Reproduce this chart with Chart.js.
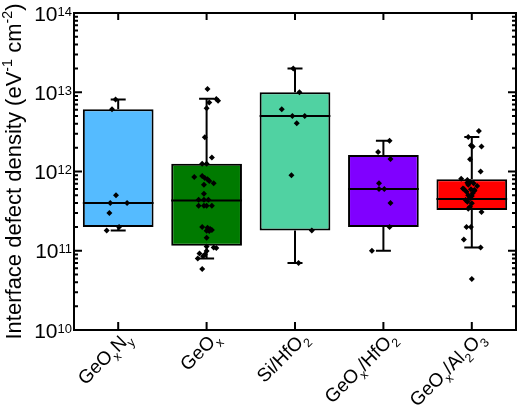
<!DOCTYPE html>
<html>
<head>
<meta charset="utf-8">
<script src="https://cdn.jsdelivr.net/npm/chart.js@4.4.1/dist/chart.umd.min.js"></script>
<style>
  body { margin: 0; background: #fff; }
  #wrap { width: 520px; height: 406px; }
</style>
</head>
<body>
<div id="wrap"><canvas id="myChart" width="520" height="406"></canvas></div>
<script>
// categories (rich parts: [text, 'sub' or ''])
const categories = ['GeOxNy', 'GeOx', 'Si/HfO2', 'GeOx/HfO2', 'GeOx/Al2O3'];
const labelParts = [
  [['GeO', ''], ['x', 'sub'], ['N', ''], ['y', 'sub']],
  [['GeO', ''], ['x', 'sub']],
  [['Si/HfO', ''], ['2', 'sub']],
  [['GeO', ''], ['x', 'sub'], ['/HfO', ''], ['2', 'sub']],
  [['GeO', ''], ['x', 'sub'], ['/Al', ''], ['2', 'sub'], ['O', ''], ['3', 'sub']]
];

// box statistics
const q1 = [2.0e11, 1.16e11, 1.8e11, 2.0e11, 3.27e11];
const q3 = [6.1e12, 1.25e12, 1.0e13, 1.61e12, 8.0e11];
const medians = [4.0e11, 4.3e11, 5.0e12, 6.0e11, 4.5e11];
const whiskerLow = [1.8e11, 8.0e10, 7.0e10, 1.0e11, 1.1e11];
const whiskerHigh = [8.1e12, 8.3e12, 2.0e13, 2.45e12, 2.72e12];

// raw points per category, with jitter (category units)
const ptsGeOxNy = [8.1e12, 6.1e12, 5.0e11, 4.0e11, 4.0e11, 3.0e11, 2.0e11, 1.8e11];
const jitGeOxNy = [-0.03, -0.07, -0.025, -0.09, 0.10, -0.10, 0.01, -0.13];

const ptsGeOx = [1.1e13, 8.2e12, 7.8e12, 7.4e12, 6.3e12, 2.7e12, 1.5e12, 1.25e12, 1.25e12,
  8.8e11, 8.5e11, 8.3e11, 8.0e11, 7.6e11, 7.1e11, 6.8e11, 5.25e11, 4.4e11, 4.4e11, 4.4e11,
  3.7e11, 3.7e11, 3.7e11, 3.7e11, 2.0e11, 1.95e11, 1.88e11, 1.83e11, 1.78e11, 1.79e11,
  1.46e11, 1.13e11, 1.10e11, 1.08e11, 9.9e10, 9.2e10, 9.0e10, 8.0e10, 8.5e10, 5.9e10];
const jitGeOx = [0.01, 0.11, 0.13, 0.03, 0.00, -0.02, 0.06, -0.05, 0.00,
  -0.05, -0.14, -0.02, 0.01, 0.03, 0.08, -0.03, -0.03, -0.09, -0.03, 0.02,
  -0.09, -0.03, 0.00, 0.06, -0.05, 0.01, 0.04, 0.06, 0.03, 0.00,
  0.00, 0.00, 0.08, 0.11, 0.00, -0.08, -0.02, -0.10, -0.04, -0.05];

const ptsSiHfO2 = [2.0e13, 1.0e13, 6.1e12, 5.0e12, 5.0e12, 4.06e12, 9.0e11, 1.8e11, 7.0e10];
const jitSiHfO2 = [-0.02, 0.05, -0.15, -0.03, 0.11, 0.02, -0.04, 0.19, 0.04];

const ptsGeOxHfO2 = [2.45e12, 1.76e12, 1.44e12, 7.1e11, 6.0e11, 6.0e11, 4.0e11, 2.0e11, 1.0e11];
const jitGeOxHfO2 = [0.07, -0.06, 0.08, -0.05, -0.05, 0.01, 0.08, 0.07, -0.13];

const ptsGeOxAl2O3 = [3.24e12, 2.72e12, 2.13e12, 2.07e12, 2.07e12, 1.43e12, 1.0e12, 8.1e11,
  7.8e11, 7.4e11, 7.2e11, 7.1e11, 6.8e11, 6.56e11, 6.1e11, 6.0e11, 5.96e11, 5.84e11, 5.7e11,
  5.56e11, 5.3e11, 5.0e11, 4.9e11, 4.73e11, 4.6e11, 4.37e11, 4.16e11, 3.97e11, 3.6e11,
  3.4e11, 3.08e11, 2.0e11, 2.0e11, 1.39e11, 1.1e11, 4.4e10];
const jitGeOxAl2O3 = [0.08, -0.04, -0.01, 0.01, 0.11, -0.02, 0.10, -0.12,
  -0.05, -0.02, -0.05, 0.02, -0.04, 0.06, -0.10, -0.09, -0.01, 0.03, 0.03,
  -0.06, 0.01, -0.04, 0.00, -0.02, -0.02, -0.07, -0.05, 0.00, -0.02,
  -0.04, 0.11, -0.06, -0.01, -0.09, 0.10, 0.00];

const boxColors = ['#55BBFF', '#007A00', '#50D2A2', '#8000FF', '#FF0000'];
const yExponents = [10, 11, 12, 13, 14];
const yTitleParts = [['Interface defect density (eV', ''], ['-1', 'sup'], [' cm', ''], ['-2', 'sup'], [')', '']];

const allPts = [ptsGeOxNy, ptsGeOx, ptsSiHfO2, ptsGeOxHfO2, ptsGeOxAl2O3];
const allJit = [jitGeOxNy, jitGeOx, jitSiHfO2, jitGeOxHfO2, jitGeOxAl2O3];
let scatterData = [];
allPts.forEach((arr, i) => {
  arr.forEach((v, k) => scatterData.push({ x: i + allJit[i][k], y: v }));
});

const FONT = "'Liberation Sans', Arial, sans-serif";

function richWidth(ctx, parts, fs) {
  let w = 0;
  parts.forEach(p => {
    ctx.font = (p[1] ? fs * 0.65 : fs) + 'px ' + FONT;
    w += ctx.measureText(p[0]).width;
  });
  return w;
}
function drawRich(ctx, parts, fs, x0, y0) {
  let x = x0;
  parts.forEach(p => {
    let size = p[1] ? fs * 0.65 : fs;
    let dy = p[1] == 'sub' ? fs * 0.3 : (p[1] == 'sup' ? -fs * 0.4 : 0);
    ctx.font = size + 'px ' + FONT;
    ctx.fillText(p[0], x, y0 + dy);
    x += ctx.measureText(p[0]).width;
  });
}

const boxPlot = {
  id: 'boxPlot',
  afterDatasetDraw(chart, args) {
    if (args.index !== 0) return;
    const ctx = chart.ctx, y = chart.scales.y;
    const meta = chart.getDatasetMeta(0);
    ctx.save();
    ctx.strokeStyle = '#000';
    ctx.lineWidth = 2;
    meta.data.forEach((bar, i) => {
      const cx = bar.x, half = bar.width / 2, cap = 7.5;
      ctx.beginPath();
      ctx.moveTo(cx, y.getPixelForValue(q3[i]));
      ctx.lineTo(cx, y.getPixelForValue(whiskerHigh[i]));
      ctx.moveTo(cx - cap, y.getPixelForValue(whiskerHigh[i]));
      ctx.lineTo(cx + cap, y.getPixelForValue(whiskerHigh[i]));
      ctx.moveTo(cx, y.getPixelForValue(q1[i]));
      ctx.lineTo(cx, y.getPixelForValue(whiskerLow[i]));
      ctx.moveTo(cx - cap, y.getPixelForValue(whiskerLow[i]));
      ctx.lineTo(cx + cap, y.getPixelForValue(whiskerLow[i]));
      ctx.moveTo(cx - half, y.getPixelForValue(medians[i]));
      ctx.lineTo(cx + half, y.getPixelForValue(medians[i]));
      ctx.stroke();
    });
    ctx.restore();
  },
  afterDraw(chart) {
    const ctx = chart.ctx, x = chart.scales.x, y = chart.scales.y;
    const { left, right, top, bottom } = chart.chartArea;
    ctx.save();
    ctx.strokeStyle = '#000';
    ctx.lineWidth = 2;
    ctx.strokeRect(left, top, right - left, bottom - top);
    ctx.beginPath();
    yExponents.forEach(e => {
      const py = y.getPixelForValue(Math.pow(10, e));
      ctx.moveTo(left, py); ctx.lineTo(left + 8, py);
      ctx.moveTo(right, py); ctx.lineTo(right - 8, py);
      if (e < 14) {
        for (let m = 2; m < 10; m++) {
          const pm = y.getPixelForValue(m * Math.pow(10, e));
          ctx.moveTo(left, pm); ctx.lineTo(left + 4, pm);
          ctx.moveTo(right, pm); ctx.lineTo(right - 4, pm);
        }
      }
    });
    categories.forEach((c, i) => {
      const px = x.getPixelForValue(i);
      ctx.moveTo(px, top); ctx.lineTo(px, top + 7);
      ctx.moveTo(px, bottom); ctx.lineTo(px, bottom - 8);
    });
    ctx.stroke();

    // y tick labels
    ctx.fillStyle = '#000';
    ctx.textAlign = 'left';
    ctx.textBaseline = 'alphabetic';
    yExponents.forEach(e => {
      const py = y.getPixelForValue(Math.pow(10, e));
      ctx.font = '13px ' + FONT;
      const ew = ctx.measureText(String(e)).width;
      ctx.font = '21px ' + FONT;
      const bw = ctx.measureText('10').width;
      ctx.fillText('10', left - 2 - ew - bw, py + 7.7);
      ctx.font = '13px ' + FONT;
      ctx.fillText(String(e), left - 2 - ew, py + 2.7);
    });

    // x tick labels
    labelParts.forEach((parts, i) => {
      const px = x.getPixelForValue(i);
      const w = richWidth(ctx, parts, 19);
      ctx.save();
      ctx.translate(px + 14, 339);
      ctx.rotate(-Math.PI / 4);
      drawRich(ctx, parts, 19, -w, 0);
      ctx.restore();
    });

    // y title
    const tw = richWidth(ctx, yTitleParts, 22);
    ctx.save();
    ctx.translate(21, (top + bottom) / 2);
    ctx.rotate(-Math.PI / 2);
    drawRich(ctx, yTitleParts, 22, -tw / 2, 0);
    ctx.restore();
    ctx.restore();
  }
};

new Chart(document.getElementById('myChart'), {
  data: {
    labels: categories,
    datasets: [{
      type: 'bar',
      order: 2,
      data: categories.map((c, i) => [q1[i], q3[i]]),
      backgroundColor: boxColors,
      borderColor: '#000',
      borderWidth: 2,
      borderSkipped: false,
      grouped: false,
      categoryPercentage: 0.8,
      barPercentage: 1.0
    }, {
      type: 'scatter',
      order: 1,
      xAxisID: 'xj',
      data: scatterData,
      pointStyle: 'rectRot',
      pointRadius: 3,
      pointBorderWidth: 0,
      backgroundColor: '#000',
      borderColor: '#000'
    }]
  },
  options: {
    responsive: false,
    animation: false,
    layout: { padding: { top: 13, right: 2, left: 0, bottom: 0 } },
    plugins: { legend: { display: false }, tooltip: { enabled: false } },
    scales: {
      x: {
        type: 'category',
        offset: true,
        grid: { display: false },
        border: { display: false },
        ticks: { display: false },
        afterFit: s => { s.height = 76; }
      },
      xj: { type: 'linear', min: -0.5, max: 4.5, display: false },
      y: {
        type: 'logarithmic',
        min: 1e10,
        max: 1e14,
        grid: { display: false },
        border: { display: false },
        ticks: { display: false },
        afterFit: s => { s.width = 74; }
      }
    }
  },
  plugins: [boxPlot]
});
</script>
</body>
</html>
